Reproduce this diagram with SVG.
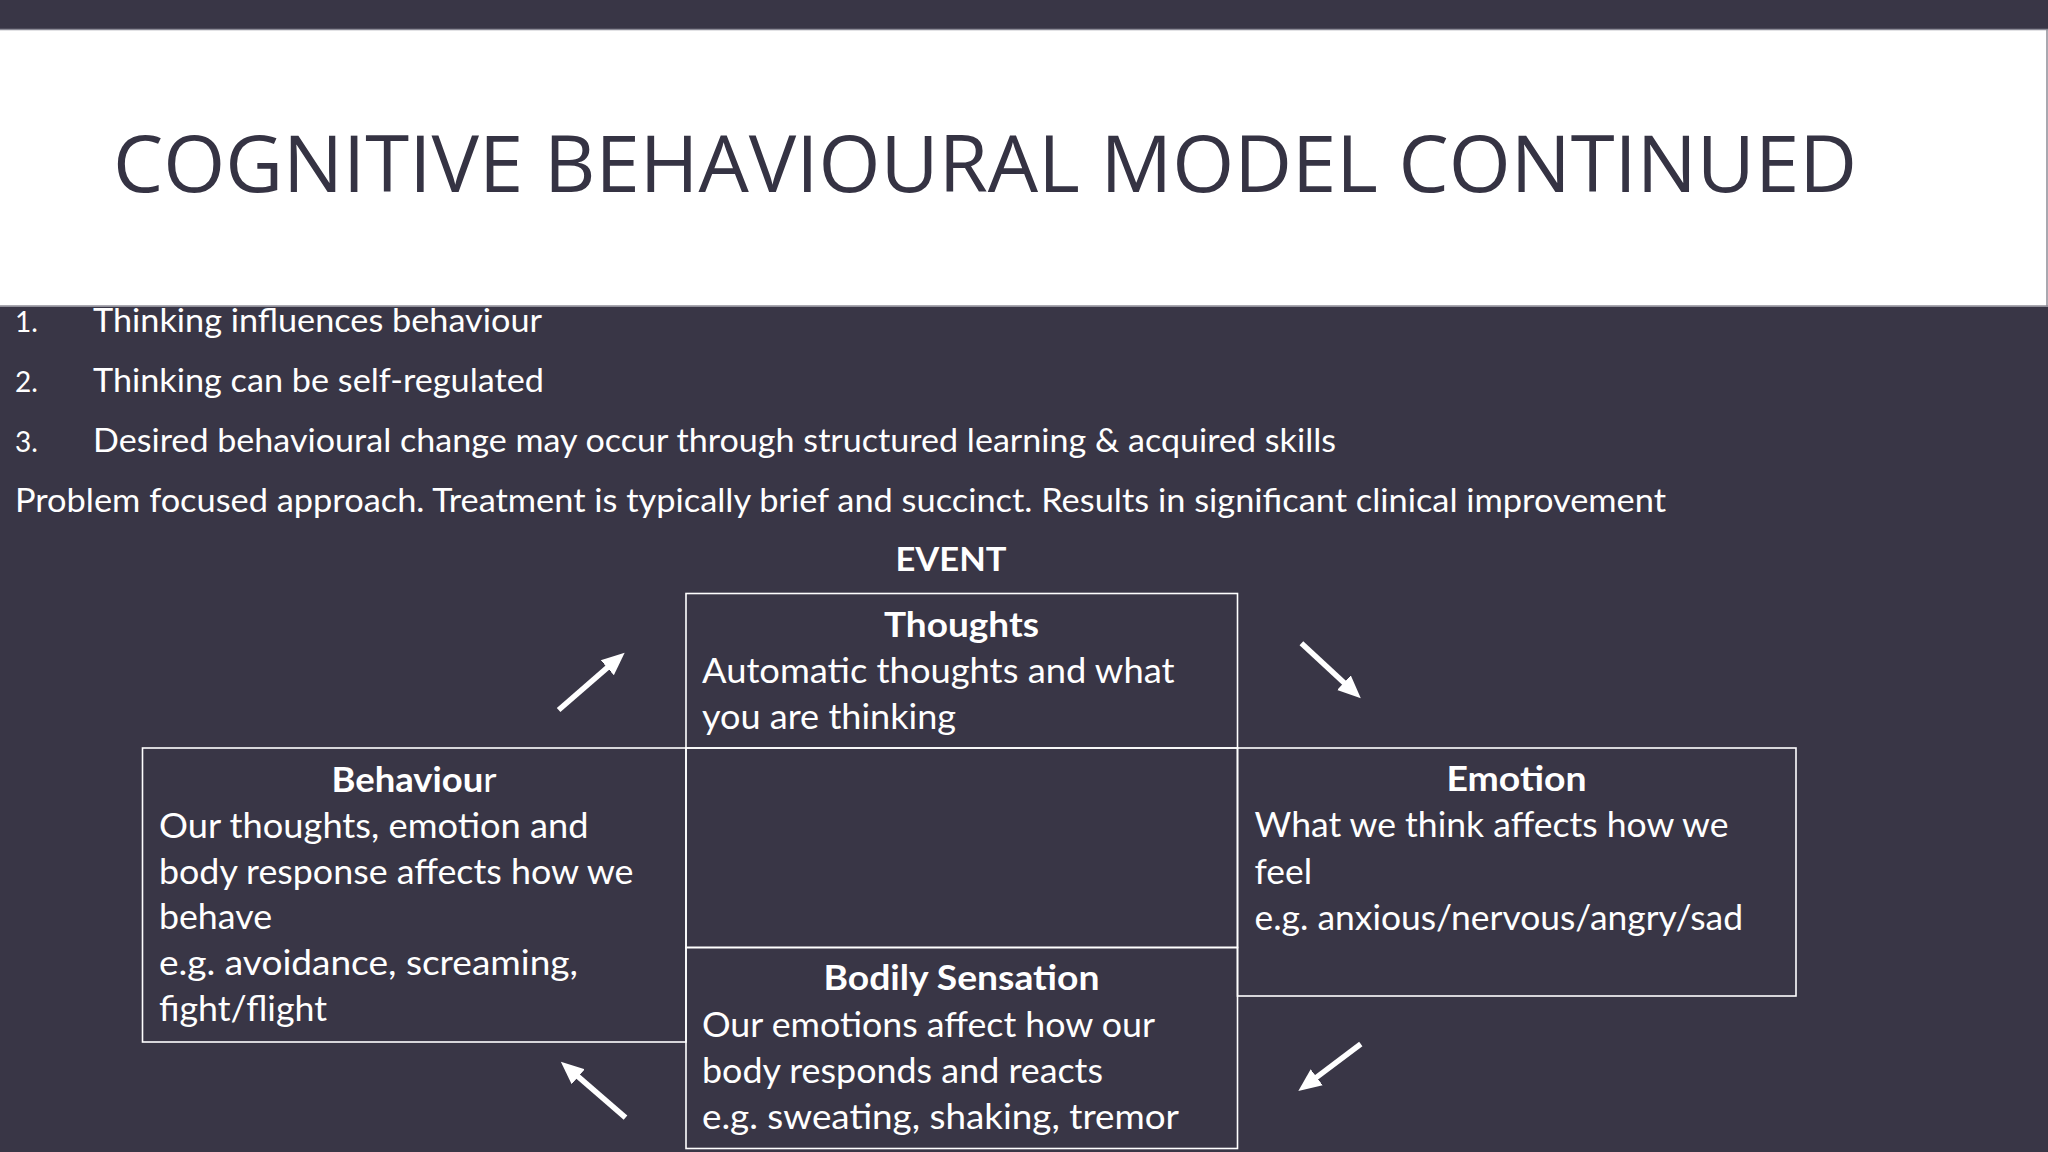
<svg xmlns="http://www.w3.org/2000/svg" width="2048" height="1152" viewBox="0 0 2048 1152">
<defs>
<style>
.bg{fill:#393646}
.txt{fill:#ffffff;font-family:Lato,"Open Sans","Liberation Sans",sans-serif;font-size:32px}
.bt{font-size:34px}
.box{fill:none;stroke:#ffffff;stroke-width:1.6}
.hd{font-weight:bold;text-anchor:middle}
.arr{stroke:#ffffff;stroke-width:5.5;fill:none}
</style>
<marker id="ah" markerUnits="userSpaceOnUse" markerWidth="26" markerHeight="24" viewBox="0 -12 26 24" refX="2" refY="0" orient="auto">
<path d="M0,-10 L23,0 L0,10 Z" fill="#ffffff"/>
</marker>
</defs>
<rect class="bg" x="0" y="0" width="2048" height="1152"/>
<g id="title-band">
<rect x="0" y="29.5" width="2048" height="277" fill="#ffffff"/>
<line x1="0" y1="29.5" x2="2048" y2="29.5" stroke="#8c8b96" stroke-width="1.5"/>
<line x1="0" y1="306" x2="2048" y2="306" stroke="#8c8b96" stroke-width="1.5"/>
<line x1="2047" y1="29.5" x2="2047" y2="306" stroke="#8c8b96" stroke-width="1.5"/>
<text x="113" y="192" font-family="'Open Sans','Liberation Sans',sans-serif" font-size="79" fill="#353343" textLength="1744" lengthAdjust="spacingAndGlyphs">COGNITIVE BEHAVIOURAL MODEL CONTINUED</text>
</g>
<g id="intro-text" class="txt">
<text x="15" y="332" font-size="28">1.</text>
<text x="93" y="332" textLength="449" lengthAdjust="spacingAndGlyphs">Thinking influences behaviour</text>
<text x="15" y="392" font-size="28">2.</text>
<text x="93" y="392" textLength="451" lengthAdjust="spacingAndGlyphs">Thinking can be self-regulated</text>
<text x="15" y="452" font-size="28">3.</text>
<text x="93" y="452" textLength="1243" lengthAdjust="spacingAndGlyphs">Desired behavioural change may occur through structured learning &amp; acquired skills</text>
<text x="15" y="512" textLength="1651" lengthAdjust="spacingAndGlyphs">Problem focused approach. Treatment is typically brief and succinct. Results in significant clinical improvement</text>
</g>
<g id="event" class="txt">
<text x="951" y="571" class="hd" textLength="111" lengthAdjust="spacingAndGlyphs">EVENT</text>
</g>
<g id="thoughts" class="txt bt">
<rect class="box" x="686" y="593.5" width="551.5" height="154.5"/>
<text x="961.5" y="637" class="hd" textLength="155" lengthAdjust="spacingAndGlyphs">Thoughts</text>
<text x="702" y="682.5" textLength="472.5" lengthAdjust="spacingAndGlyphs">Automatic thoughts and what</text>
<text x="702" y="728.5" textLength="254" lengthAdjust="spacingAndGlyphs">you are thinking</text>
</g>
<g id="center">
<rect class="box" x="686" y="748" width="551.5" height="199.5"/>
</g>
<g id="behaviour" class="txt bt">
<rect class="box" x="142.5" y="748" width="543.5" height="294"/>
<text x="414" y="791.5" class="hd" textLength="165" lengthAdjust="spacingAndGlyphs">Behaviou<tspan font-weight="normal">r</tspan></text>
<text x="159" y="837.5" textLength="429.5" lengthAdjust="spacingAndGlyphs">Our thoughts, emotion and</text>
<text x="159" y="883.5" textLength="474.5" lengthAdjust="spacingAndGlyphs">body response affects how we</text>
<text x="159" y="929" textLength="113" lengthAdjust="spacingAndGlyphs">behave</text>
<text x="159" y="975" textLength="419" lengthAdjust="spacingAndGlyphs">e.g. avoidance, screaming,</text>
<text x="159" y="1021" textLength="168" lengthAdjust="spacingAndGlyphs">fight/flight</text>
</g>
<g id="emotion" class="txt bt">
<rect class="box" x="1237.5" y="748" width="558.5" height="248"/>
<text x="1516.5" y="791" class="hd" textLength="140" lengthAdjust="spacingAndGlyphs">Emotion</text>
<text x="1254.5" y="837" textLength="474" lengthAdjust="spacingAndGlyphs">What we think affects how we</text>
<text x="1254.5" y="883.5" textLength="57.5" lengthAdjust="spacingAndGlyphs">feel</text>
<text x="1254.5" y="929.5" textLength="488.5" lengthAdjust="spacingAndGlyphs">e.g. anxious/nervous/angry/sad</text>
</g>
<g id="bodily-sensation" class="txt bt">
<rect class="box" x="686" y="947.5" width="551.5" height="201"/>
<text x="961.5" y="990" class="hd" textLength="276" lengthAdjust="spacingAndGlyphs">Bodily Sensation</text>
<text x="702" y="1036.5" textLength="453" lengthAdjust="spacingAndGlyphs">Our emotions affect how our</text>
<text x="702" y="1082.5" textLength="401" lengthAdjust="spacingAndGlyphs">body responds and reacts</text>
<text x="702" y="1129" textLength="477" lengthAdjust="spacingAndGlyphs">e.g. sweating, shaking, tremor</text>
</g>
<g id="connectors">
<line class="arr" x1="558.6" y1="710" x2="608.8" y2="666.4" marker-end="url(#ah)"/>
<line class="arr" x1="1301.4" y1="643.3" x2="1345.4" y2="684" marker-end="url(#ah)"/>
<line class="arr" x1="1360.8" y1="1044" x2="1315.1" y2="1078.4" marker-end="url(#ah)"/>
<line class="arr" x1="625.5" y1="1117.7" x2="576.7" y2="1075.4" marker-end="url(#ah)"/>
</g>
</svg>
